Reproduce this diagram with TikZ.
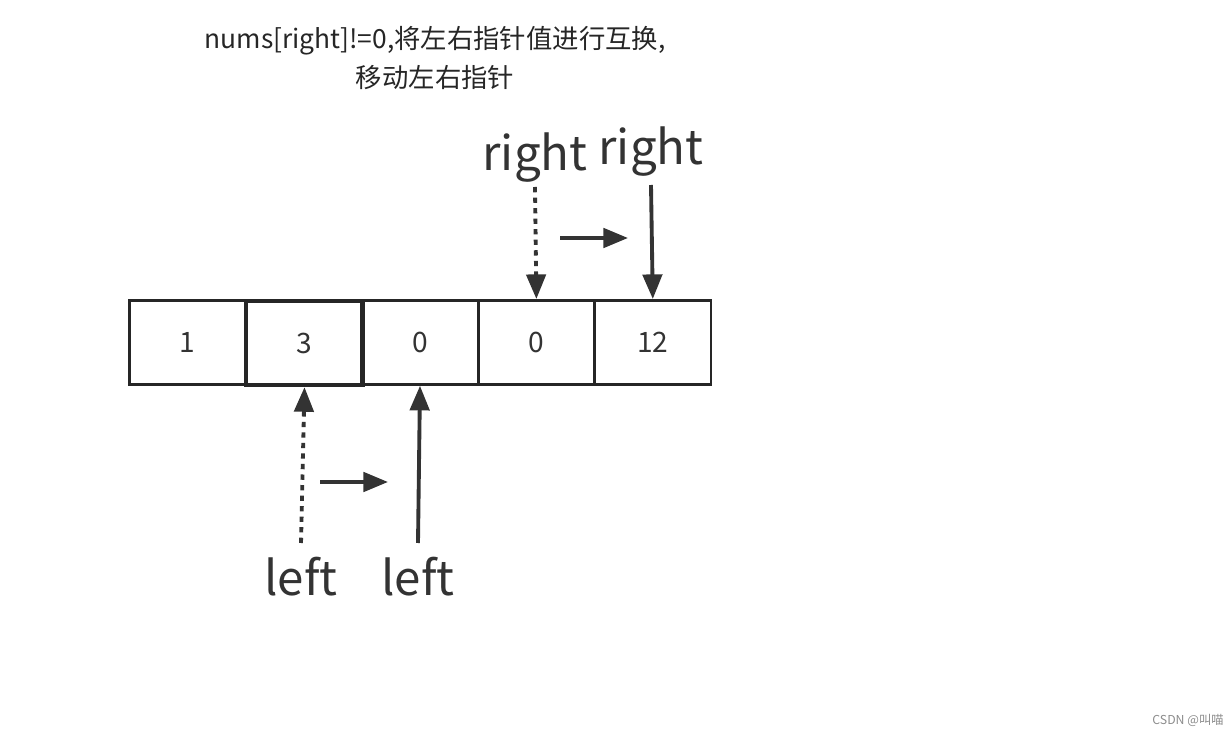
\documentclass[tikz,border=0pt]{standalone}
\usepackage{fontspec}
\setmainfont{Noto Sans CJK SC}
\usetikzlibrary{arrows.meta}
\begin{document}
\begin{tikzpicture}[x=0.02cm,y=-0.02cm,
  cell/.style={draw=black!85,line width=1.6pt,minimum width=2.328cm,minimum height=1.68cm,inner sep=0,font=\fontsize{16}{18}\selectfont,text=black!80,anchor=north west},
  ptr/.style={line width=2.2pt,draw=black!80,-{Triangle[length=14pt,width=11pt]}},
  dptr/.style={ptr,dash pattern=on 3pt off 3pt},
  lbl/.style={font=\fontsize{27}{30}\selectfont,text=black!80,inner sep=0}]
\useasboundingbox (0,0) rectangle (1228,736);
\node[align=center,font=\fontsize{15}{22}\selectfont,text=black!85] (title) at (435,58) {nums[right]!=0,将左右指针值进行互换,\\移动左右指针};
\node[cell] (c1) at (128,299) {1};
\node[cell] (c3) at (360.4,299) {0};
\node[cell] (c4) at (476.8,299) {0};
\node[cell] (c5) at (593.2,299) {12};
\node[cell,line width=2.4pt] (c2) at (244.2,299) {3};
\node[lbl] (r1) at (535,158) {right};
\node[lbl] (r2) at (651,152) {right};
\node[lbl] (l1) at (301,577) {left};
\node[lbl] (l2) at (418,577) {left};
\coordinate (a1) at (535,187); \coordinate (a2) at (651,185);
\coordinate (b1) at (301,543); \coordinate (b2) at (418,543);
\draw[dptr] (a1) -- (c4.north);
\draw[ptr] (a2) -- (c5.north);
\draw[dptr] (b1) -- (c2.south);
\draw[ptr] (b2) -- (c3.south);
\coordinate (h1) at (560,238); \coordinate (h2) at (628,238);
\coordinate (h3) at (320,482); \coordinate (h4) at (388,482);
\draw[ptr] (h1) -- (h2);
\draw[ptr] (h3) -- (h4);
\node[font=\fontsize{7}{8}\selectfont,text=black!45] (wm) at (1188,720) {CSDN @叫喵};
\end{tikzpicture}
\end{document}
